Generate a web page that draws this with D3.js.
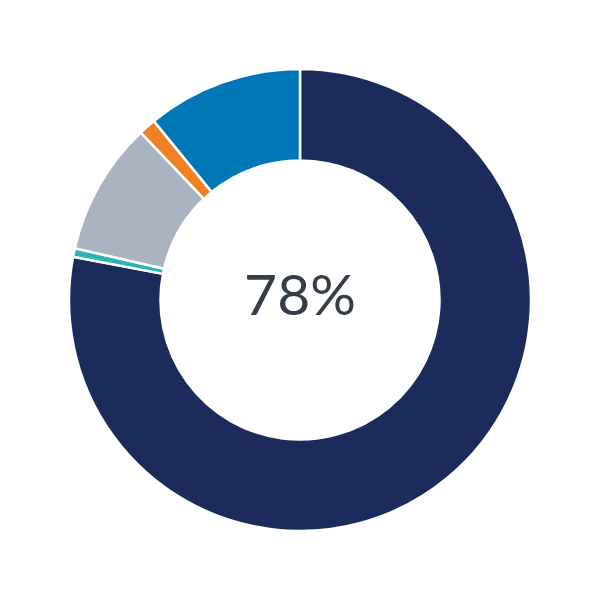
<!DOCTYPE html>
<html>
<head>
<meta charset="utf-8">
<script src="https://cdn.jsdelivr.net/npm/d3@7"></script>
<style>
  html, body { margin: 0; padding: 0; background: #ffffff; }
  svg { display: block; }
</style>
</head>
<body>
<div id="chart"></div>
<script>
const categories = ["A", "B", "C", "D", "E"];
const values = [78, 0.6, 9.3, 1.2, 10.9];
const colors = ["#1b2b5b", "#2ab4b4", "#a9b3c1", "#f08122", "#0077b6"];
const centerLabel = "78%";

const width = 600, height = 600;
const cx = 300, cy = 300;
const outerR = 231, innerR = 139.5;

const svg = d3.select("#chart").append("svg")
  .attr("width", width).attr("height", height);

const g = svg.append("g").attr("transform", `translate(${cx},${cy})`);

const data = categories.map((c, i) => ({ cat: c, value: values[i], color: colors[i] }));

const pie = d3.pie().sort(null).value(d => d.value);
const arc = d3.arc().innerRadius(innerR).outerRadius(outerR);

g.selectAll("path")
  .data(pie(data))
  .join("path")
  .attr("d", arc)
  .attr("fill", d => d.data.color)
  .attr("stroke", "#ffffff")
  .attr("stroke-width", 2.5)
  .attr("stroke-linejoin", "miter");

g.append("text")
  .attr("x", 0)
  .attr("y", 15)
  .attr("text-anchor", "middle")
  .attr("font-family", "Lato, 'Open Sans', sans-serif")
  .attr("font-size", 57)
  .attr("font-weight", 400)
  .attr("fill", "#343d48")
  .text(centerLabel);
</script>
</body>
</html>
